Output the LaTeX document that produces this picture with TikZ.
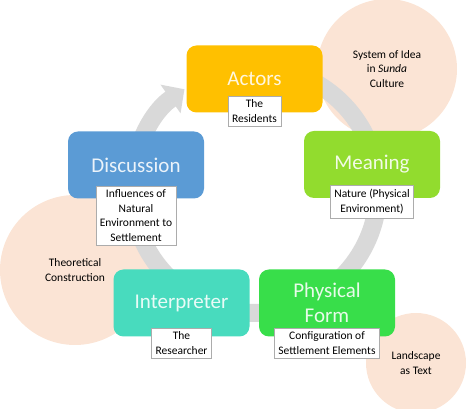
\documentclass[tikz,border=0pt]{standalone}
\usepackage{fontspec}
\setmainfont{Carlito}
\usetikzlibrary{positioning, arrows.meta}
\definecolor{actorsorange}{HTML}{FFC000}
\definecolor{meaninglime}{HTML}{92DC2E}
\definecolor{discussblue}{HTML}{5B9BD5}
\definecolor{interpteal}{HTML}{48DBBE}
\definecolor{formgreen}{HTML}{38DE4A}
\definecolor{peach}{HTML}{FBE4D5}
\definecolor{ringgray}{HTML}{D9D9D9}
\tikzset{
  stage/.style={rectangle, rounded corners=10pt,
    minimum width=136pt, minimum height=67pt,
    fill=#1, text=#1!12!white, align=center,
    font=\fontsize{21}{25}\selectfont},
  note/.style={rectangle, draw=gray!65, fill=white,
    align=center, inner xsep=4pt, inner ysep=4pt,
    font=\fontsize{11.5}{14.5}\selectfont},
  idea/.style={circle, fill=peach, inner sep=0pt, align=center,
    font=\fontsize{11.5}{14.5}\selectfont},
  cyclearrow/.style={draw=ringgray, line width=18pt,
    -{Triangle[width=34pt,length=17pt]}}
}

\begin{document}
\begin{tikzpicture}[x=1pt, y=1pt]
    \useasboundingbox (0,0) rectangle (474,409);
    \clip (0,0) rectangle (474,409);
    % background circles
    \node (sys) [idea, minimum size=140pt] at (387,340) {System of Idea\\in \textit{Sunda}\\Culture};
    \node (theo) [idea, minimum size=150pt] at (75,139) {Theoretical\\Construction};
    \node (land) [idea, minimum size=100pt] at (416,46) {Landscape\\as Text};
    % cycle
    \coordinate (hub) at (255,219);
    \draw [cyclearrow] ([shift={(95:123)}]hub) arc[start angle=95, end angle=-235, radius=123];
    % stages
    \node (act) [stage=actorsorange] at (254.5,330) {Actors};
    \node (mea) [stage=meaninglime] at (372,244.5) {Meaning};
    \node (dis) [stage=discussblue] at (136,244) {Discussion};
    \node (itp) [stage=interpteal] at (181.5,106) {Interpreter};
    \node (phy) [stage=formgreen] at (327,106) {Physical\\Form};
    % notes
    \node (res) [note, below=-17pt of act] {The\\Residents};
    \node (nat) [note, below=-13pt of mea] {Nature (Physical\\Environment)};
    \node (inf) [note, below=-13pt of dis] {Influences of\\Natural\\Environment to\\Settlement};
    \node (rsr) [note, below=-9pt of itp] {The\\Researcher};
    \node (cfg) [note, below=-9pt of phy] {Configuration of\\Settlement Elements};
\end{tikzpicture}
\end{document}
